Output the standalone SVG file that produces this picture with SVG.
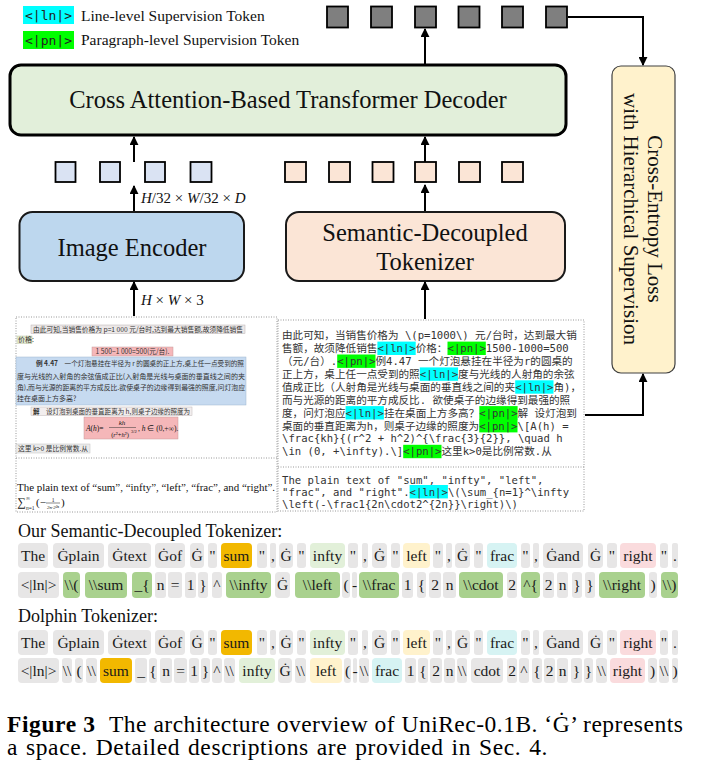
<svg xmlns="http://www.w3.org/2000/svg" width="721" height="770" viewBox="0 0 721 770">
<defs>
<marker id="ah" viewBox="0 0 10 10" refX="9" refY="5" markerWidth="9" markerHeight="9" markerUnits="userSpaceOnUse" orient="auto"><path d="M0,0 L10,5 L0,10 z" fill="#000"/></marker>
<style>
.serif{font-family:"Liberation Serif","Times New Roman",serif;fill:#111}
.mono{font-family:"DejaVu Sans Mono","Noto Sans CJK SC",monospace;font-size:10.6px;fill:#333;white-space:pre}
.cjk{font-family:"Noto Sans CJK SC","Liberation Serif",sans-serif;font-size:7px;fill:#333}
.con{fill:none;stroke:#000;stroke-width:2}
.ln{fill:#00ffff}
.pn{fill:#00ff00}
.outsq{fill:#7f7f7f;stroke:#000;stroke-width:1.8}
.bsq{fill:#dae3f3;stroke:#000;stroke-width:1.8}
.osq{fill:#fbe5d6;stroke:#000;stroke-width:1.8}
.tk text{font-family:"Liberation Serif","Times New Roman",serif;font-size:15.5px;fill:#1a1a1a;text-anchor:middle}
.t{fill:#e7e6e6}.o{fill:#f2b800}.g{fill:#a9d18e}.lg{fill:#e2f0d9}.y{fill:#fff2cc}.c{fill:#d6f3f3}.p{fill:#fadbdd}
.dot{fill:none;stroke:#999;stroke-width:1;stroke-dasharray:1 1.5}
.cap{font-family:"Liberation Serif","Times New Roman",serif;font-size:23.5px;fill:#000}
</style>
</defs>
<rect width="721" height="770" fill="#fff"/>

<!-- legend -->
<g id="legend">
<rect x="23" y="6" width="51" height="18" class="ln"/>
<text x="48.5" y="20" text-anchor="middle" style="font-family:'DejaVu Sans Mono',monospace;font-size:13px;fill:#222">&lt;|ln|&gt;</text>
<text x="81" y="21" class="serif" font-size="15.5">Line-level Supervision Token</text>
<rect x="23" y="31" width="51" height="18" class="pn"/>
<text x="48.5" y="44.5" text-anchor="middle" style="font-family:'DejaVu Sans Mono',monospace;font-size:13px;fill:#222">&lt;|pn|&gt;</text>
<text x="81" y="45" class="serif" font-size="15.5">Paragraph-level Supervision Token</text>
</g>

<!-- output tokens -->
<g id="output-tokens">
<rect x="327" y="6.5" width="21" height="21" class="outsq"/>
<rect x="371" y="6.5" width="21" height="21" class="outsq"/>
<rect x="415" y="6.5" width="21" height="21" class="outsq"/>
<rect x="458.5" y="6.5" width="21" height="21" class="outsq"/>
<rect x="502" y="6.5" width="21" height="21" class="outsq"/>
<rect x="546" y="6.5" width="21" height="21" class="outsq"/>
</g>

<!-- decoder -->
<g id="decoder">
<rect x="10" y="65" width="556" height="70" rx="11" fill="#e2efda" stroke="#000" stroke-width="3"/>
<text x="288" y="108" text-anchor="middle" class="serif" font-size="24.5">Cross Attention-Based Transformer Decoder</text>
</g>

<!-- loss -->
<g id="loss">
<rect x="612" y="66" width="63" height="307" rx="9" fill="#fff2cc" stroke="#404040" stroke-width="1.2"/>
<text transform="translate(648,219) rotate(90)" text-anchor="middle" class="serif" font-size="21">Cross-Entropy Loss</text>
<text transform="translate(624,219) rotate(90)" text-anchor="middle" class="serif" font-size="21">with Hierarchical Supervision</text>
</g>

<!-- image feature tokens -->
<g id="image-tokens">
<rect x="55.5" y="162" width="20" height="20" class="bsq"/>
<rect x="100" y="162" width="20" height="20" class="bsq"/>
<rect x="145" y="162" width="20" height="20" class="bsq"/>
<rect x="190.5" y="162" width="21" height="20" class="bsq"/>
</g>

<!-- text tokens -->
<g id="text-tokens">
<rect x="285" y="162" width="21" height="20" class="osq"/>
<rect x="329" y="162" width="21" height="20" class="osq"/>
<rect x="372.5" y="162" width="21" height="20" class="osq"/>
<rect x="415" y="162" width="21" height="20" class="osq"/>
<rect x="459" y="162" width="21" height="20" class="osq"/>
<rect x="502" y="162" width="21" height="20" class="osq"/>
</g>

<!-- image encoder -->
<g id="image-encoder">
<rect x="19.5" y="212" width="224.5" height="69" rx="13" fill="#bdd7ee" stroke="#1a1a1a" stroke-width="2"/>
<text x="132" y="256" text-anchor="middle" class="serif" font-size="24.5">Image Encoder</text>
</g>

<!-- tokenizer -->
<g id="tokenizer">
<rect x="286" y="212" width="279" height="69" rx="13" fill="#fbe5d6" stroke="#1a1a1a" stroke-width="2"/>
<text x="425" y="241" text-anchor="middle" class="serif" font-size="24.5">Semantic-Decoupled</text>
<text x="425" y="270" text-anchor="middle" class="serif" font-size="24.5">Tokenizer</text>
</g>

<!-- connector labels -->
<g id="labels">
<text x="141" y="203" class="serif" font-size="15"><tspan font-style="italic">H</tspan>/32 × <tspan font-style="italic">W</tspan>/32 × <tspan font-style="italic">D</tspan></text>
<text x="141" y="305" class="serif" font-size="15"><tspan font-style="italic">H</tspan> × <tspan font-style="italic">W</tspan> × 3</text>
</g>

<!-- connectors -->
<g id="connectors">
<line x1="425" y1="64" x2="425" y2="29" class="con" marker-end="url(#ah)"/>
<polyline points="568,17 643,17 643,65" class="con" marker-end="url(#ah)"/>
<polyline points="585,415 643,415 643,374" class="con" marker-end="url(#ah)"/>
<line x1="134" y1="162" x2="134" y2="137" class="con" marker-end="url(#ah)"/>
<line x1="425" y1="162" x2="425" y2="137" class="con" marker-end="url(#ah)"/>
<line x1="134" y1="211" x2="134" y2="186" class="con" marker-end="url(#ah)"/>
<line x1="425" y1="211" x2="425" y2="185" class="con" marker-end="url(#ah)"/>
<line x1="134" y1="316" x2="134" y2="282" class="con" marker-end="url(#ah)"/>
<line x1="425" y1="319" x2="425" y2="282" class="con" marker-end="url(#ah)"/>
</g>

<!-- document image -->
<g id="document-image">
<rect x="16" y="317" width="261" height="195" class="dot" fill="#fff"/>
<rect x="31" y="325" width="214" height="8.5" fill="#ece8e8" stroke="#b8b0b0" stroke-width="0.5"/>
<text x="33" y="332" class="cjk" textLength="210" lengthAdjust="spacingAndGlyphs">由此可知,当销售价格为 p=1 000 元/台时,达到最大销售额,故须降低销售</text>
<rect x="17" y="336" width="15" height="7.5" fill="#e3ead0" stroke="#c0c8a8" stroke-width="0.5"/>
<text x="18" y="342" class="cjk" font-size="6.5">价格:</text>
<rect x="92" y="347" width="81" height="9" fill="#f5b7b9" stroke="#c89a9a" stroke-width="0.5"/>
<text x="132.5" y="354" class="cjk" text-anchor="middle" textLength="74" lengthAdjust="spacingAndGlyphs">1 500−1 000=500(元/台).</text>
<rect x="16" y="357" width="230" height="48" fill="#c6daf0" stroke="#9fb6d0" stroke-width="0.5"/>
<text x="36" y="366" class="cjk" textLength="208" lengthAdjust="spacingAndGlyphs"><tspan font-weight="bold">例 4.47</tspan>　一个灯泡悬挂在半径为 r 的圆桌的正上方,桌上任一点受到的照</text>
<text x="17" y="378.5" class="cjk" textLength="228" lengthAdjust="spacingAndGlyphs">度与光线的入射角的余弦值成正比(入射角是光线与桌面的垂直线之间的夹</text>
<text x="17" y="390" class="cjk" textLength="228" lengthAdjust="spacingAndGlyphs">角),而与光源的距离的平方成反比.欲使桌子的边缘得到最强的照度,问灯泡应</text>
<text x="17" y="401" class="cjk">挂在桌面上方多高?</text>
<rect x="31" y="407" width="161" height="8.5" fill="#f2eeee" stroke="#c0b8b8" stroke-width="0.5"/>
<text x="33" y="414" class="cjk" textLength="157" lengthAdjust="spacingAndGlyphs"><tspan font-weight="bold">解</tspan>　设灯泡到桌面的垂直距离为 h,则桌子边缘的照度为</text>
<rect x="84" y="417" width="94" height="22" fill="#f5b7b9" stroke="#c89a9a" stroke-width="0.5"/>
<text x="86" y="431" class="serif" font-size="7.5" fill="#333"><tspan font-style="italic">A</tspan>(<tspan font-style="italic">h</tspan>)=</text>
<text x="122" y="425" class="serif" font-size="7" text-anchor="middle" font-style="italic">kh</text>
<line x1="109" y1="427.5" x2="136" y2="427.5" stroke="#333" stroke-width="0.5"/>
<text x="120" y="436.5" class="serif" font-size="6.5" text-anchor="middle">(<tspan font-style="italic">r</tspan>²+<tspan font-style="italic">h</tspan>²)</text>
<text x="131" y="433" class="serif" font-size="4.5">3/2</text>
<text x="138" y="431" class="serif" font-size="7.5">,   <tspan font-style="italic">h</tspan> ∈ (0,+∞).</text>
<rect x="16" y="444" width="74" height="9" fill="#ebebeb" stroke="#c0c0c0" stroke-width="0.5"/>
<text x="18" y="451" class="cjk" textLength="70" lengthAdjust="spacingAndGlyphs">这里 k&gt;0 是比例常数.从</text>
<line x1="16" y1="458" x2="277" y2="458" class="dot"/>
<text x="17" y="491" class="serif" font-size="10.2" textLength="258" lengthAdjust="spacingAndGlyphs">The plain text of “sum”, “infty”, “left”, “frac”, and “right”.</text>
<text x="17" y="506" class="serif" font-size="12">∑</text>
<text x="26" y="499.5" class="serif" font-size="5.5">∞</text>
<text x="26" y="509.5" class="serif" font-size="5.5"><tspan font-style="italic">n</tspan>=1</text>
<text x="36" y="506" class="serif" font-size="11">(−</text>
<text x="53" y="501.5" class="serif" font-size="5.5" text-anchor="middle">1</text>
<line x1="46" y1="503" x2="60" y2="503" stroke="#111" stroke-width="0.5"/>
<text x="53" y="509" class="serif" font-size="5" text-anchor="middle" font-style="italic">2n·2²ⁿ</text>
<text x="61" y="506" class="serif" font-size="11">)</text>
</g>

<!-- tokenized text -->
<g id="tokenized-text">
<rect x="278" y="320" width="306" height="191" class="dot" fill="#fff"/>
<rect x="377.4" y="341.6" width="38.3" height="13.4" class="ln"/>
<rect x="447.5" y="341.6" width="38.3" height="13.4" class="pn"/>
<rect x="337.2" y="354.5" width="38.3" height="13.4" class="pn"/>
<rect x="419.8" y="367.4" width="38.3" height="13.4" class="ln"/>
<rect x="515.2" y="380.3" width="38.3" height="13.4" class="ln"/>
<rect x="345.6" y="406.1" width="38.3" height="13.4" class="ln"/>
<rect x="479.3" y="406.1" width="38.3" height="13.4" class="pn"/>
<rect x="479.2" y="419" width="38.3" height="13.4" class="pn"/>
<rect x="403.2" y="444.8" width="38.3" height="13.4" class="pn"/>
<rect x="409.6" y="485" width="38.3" height="13.4" class="ln"/>
<text class="mono" y="339.2"><tspan x="282">由此可知，当销售价格为 \(p=1000\) 元/台时，达到最大销</tspan></text>
<text class="mono" y="352.1"><tspan x="282">售额，故须降低销售</tspan><tspan x="377.4">&lt;|ln|&gt;</tspan><tspan x="415.7">价格：</tspan><tspan x="447.5">&lt;|pn|&gt;</tspan><tspan x="485.8">1500-1000=500</tspan></text>
<text class="mono" y="365"><tspan x="282">（元/台）.</tspan><tspan x="337.2">&lt;|pn|&gt;</tspan><tspan x="375.5">例4.47 一个灯泡悬挂在半径为r的圆桌的</tspan></text>
<text class="mono" y="377.9"><tspan x="282">正上方，桌上任一点受到的照</tspan><tspan x="419.8">&lt;|ln|&gt;</tspan><tspan x="458.1">度与光线的人射角的余弦</tspan></text>
<text class="mono" y="390.8"><tspan x="282">值成正比（人射角是光线与桌面的垂直线之间的夹</tspan><tspan x="515.2">&lt;|ln|&gt;</tspan><tspan x="553.5">角)，</tspan></text>
<text class="mono" y="403.7"><tspan x="282">而与光源的距离的平方成反比. 欲使桌子的边缘得到最强的照</tspan></text>
<text class="mono" y="416.6"><tspan x="282">度，问灯泡应</tspan><tspan x="345.6">&lt;|ln|&gt;</tspan><tspan x="383.9">挂在桌面上方多高？</tspan><tspan x="479.3">&lt;|pn|&gt;</tspan><tspan x="517.6">解 设灯泡到</tspan></text>
<text class="mono" y="429.5"><tspan x="282">桌面的垂直距离为h，则桌子边缘的照度为</tspan><tspan x="479.2">&lt;|pn|&gt;</tspan><tspan x="517.5">\[A(h) =</tspan></text>
<text class="mono" y="442.4"><tspan x="282">\frac{kh}{(r^2 + h^2)^{\frac{3}{2}}, \quad h</tspan></text>
<text class="mono" y="455.3"><tspan x="282">\in (0, +\infty).\]</tspan><tspan x="403.2">&lt;|pn|&gt;</tspan><tspan x="441.5">这里k&gt;0是比例常数.从</tspan></text>
<line x1="278" y1="467" x2="584" y2="467" class="dot"/>
<text class="mono" y="483.5"><tspan x="282">The plain text of "sum", "infty", "left",</tspan></text>
<text class="mono" y="495.5"><tspan x="282">"frac", and "right".</tspan><tspan x="409.6">&lt;|ln|&gt;</tspan><tspan x="447.9">\(\sum_{n=1}^\infty</tspan></text>
<text class="mono" y="507.8"><tspan x="282">\left(-\frac1{2n\cdot2^{2n}}\right)\)</tspan></text>
</g>

<!-- tokenizer comparison -->
<g id="ours-title"><text x="18" y="537" class="serif" font-size="18">Our Semantic-Decoupled Tokenizer:</text></g>
<g id="ours-row1" class="tk">
<rect x="18" y="543" width="30" height="25" rx="4" class="t"/><text x="33" y="561">The</text>
<rect x="53" y="543" width="51" height="25" rx="4" class="t"/><text x="78.5" y="561">Ġplain</text>
<rect x="108" y="543" width="43" height="25" rx="4" class="t"/><text x="129.5" y="561">Ġtext</text>
<rect x="155" y="543" width="30" height="25" rx="4" class="t"/><text x="170" y="561">Ġof</text>
<rect x="190" y="543" width="14" height="25" rx="4" class="t"/><text x="197" y="561">Ġ</text>
<rect x="208" y="543" width="9" height="25" rx="3" class="t"/><text x="212.5" y="561">"</text>
<rect x="221" y="543" width="31" height="25" rx="4" class="o"/><text x="236.5" y="561">sum</text>
<rect x="257" y="543" width="10" height="25" rx="3" class="t"/><text x="262" y="561">"</text>
<rect x="270" y="543" width="6" height="25" rx="2" class="t"/><text x="273" y="561">,</text>
<rect x="279" y="543" width="14" height="25" rx="4" class="t"/><text x="286" y="561">Ġ</text>
<rect x="297" y="543" width="9" height="25" rx="3" class="t"/><text x="301.5" y="561">"</text>
<rect x="310" y="543" width="35" height="25" rx="4" class="lg"/><text x="327.5" y="561">infty</text>
<rect x="348" y="543" width="10" height="25" rx="3" class="t"/><text x="353" y="561">"</text>
<rect x="362" y="543" width="6" height="25" rx="2" class="t"/><text x="365" y="561">,</text>
<rect x="372" y="543" width="15" height="25" rx="4" class="t"/><text x="379.5" y="561">Ġ</text>
<rect x="391" y="543" width="9" height="25" rx="3" class="t"/><text x="395.5" y="561">"</text>
<rect x="403" y="543" width="27" height="25" rx="4" class="y"/><text x="416.5" y="561">left</text>
<rect x="433" y="543" width="10" height="25" rx="3" class="t"/><text x="438" y="561">"</text>
<rect x="446" y="543" width="6" height="25" rx="2" class="t"/><text x="449" y="561">,</text>
<rect x="455" y="543" width="15" height="25" rx="4" class="t"/><text x="462.5" y="561">Ġ</text>
<rect x="474" y="543" width="9" height="25" rx="3" class="t"/><text x="478.5" y="561">"</text>
<rect x="487" y="543" width="30" height="25" rx="4" class="c"/><text x="502" y="561">frac</text>
<rect x="521" y="543" width="9" height="25" rx="3" class="t"/><text x="525.5" y="561">"</text>
<rect x="533" y="543" width="6" height="25" rx="2" class="t"/><text x="536" y="561">,</text>
<rect x="543" y="543" width="40" height="25" rx="4" class="t"/><text x="563" y="561">Ġand</text>
<rect x="588" y="543" width="15" height="25" rx="4" class="t"/><text x="595.5" y="561">Ġ</text>
<rect x="607" y="543" width="10" height="25" rx="3" class="t"/><text x="612" y="561">"</text>
<rect x="620" y="543" width="36" height="25" rx="4" class="p"/><text x="638" y="561">right</text>
<rect x="660" y="543" width="8" height="25" rx="3" class="t"/><text x="664" y="561">"</text>
<rect x="672" y="543" width="6" height="25" rx="2" class="t"/><text x="675" y="561">.</text>
</g>
<g id="ours-row2" class="tk">
<rect x="18" y="572" width="41" height="26" rx="4" class="t"/><text x="38.5" y="590">&lt;|ln|&gt;</text>
<rect x="63" y="572" width="17" height="26" rx="4" class="g"/><text x="71.5" y="590">\\(</text>
<rect x="85" y="572" width="42" height="26" rx="4" class="g"/><text x="106" y="590">\\sum</text>
<rect x="132" y="572" width="20" height="26" rx="4" class="g"/><text x="142" y="590">_{</text>
<rect x="155" y="572" width="11" height="26" rx="3" class="t"/><text x="160.5" y="590">n</text>
<rect x="168" y="572" width="14" height="26" rx="3" class="t"/><text x="175" y="590">=</text>
<rect x="185" y="572" width="11" height="26" rx="3" class="t"/><text x="190.5" y="590">1</text>
<rect x="198" y="572" width="10" height="26" rx="3" class="t"/><text x="203" y="590">}</text>
<rect x="212" y="572" width="10" height="26" rx="3" class="t"/><text x="217" y="590">^</text>
<rect x="226" y="572" width="45" height="26" rx="4" class="g"/><text x="248.5" y="590">\\infty</text>
<rect x="275" y="572" width="15" height="26" rx="4" class="t"/><text x="282.5" y="590">Ġ</text>
<rect x="295" y="572" width="45" height="26" rx="4" class="g"/><text x="317.5" y="590">\\left</text>
<rect x="342" y="572" width="8" height="26" rx="3" class="t"/><text x="346" y="590">(</text>
<rect x="352" y="572" width="5" height="26" rx="2" class="t"/><text x="354.5" y="590">-</text>
<rect x="359" y="572" width="40" height="26" rx="4" class="g"/><text x="379" y="590">\\frac</text>
<rect x="402" y="572" width="11" height="26" rx="3" class="t"/><text x="407.5" y="590">1</text>
<rect x="417" y="572" width="9" height="26" rx="3" class="t"/><text x="421.5" y="590">{</text>
<rect x="429" y="572" width="12" height="26" rx="3" class="t"/><text x="435" y="590">2</text>
<rect x="443" y="572" width="13" height="26" rx="3" class="t"/><text x="449.5" y="590">n</text>
<rect x="459" y="572" width="44" height="26" rx="4" class="g"/><text x="481" y="590">\\cdot</text>
<rect x="507" y="572" width="10" height="26" rx="3" class="t"/><text x="512" y="590">2</text>
<rect x="521" y="572" width="19" height="26" rx="4" class="g"/><text x="530.5" y="590">^{</text>
<rect x="543" y="572" width="11" height="26" rx="3" class="t"/><text x="548.5" y="590">2</text>
<rect x="557" y="572" width="11" height="26" rx="3" class="t"/><text x="562.5" y="590">n</text>
<rect x="572" y="572" width="10" height="26" rx="3" class="t"/><text x="577" y="590">}</text>
<rect x="585" y="572" width="10" height="26" rx="3" class="t"/><text x="590" y="590">}</text>
<rect x="599" y="572" width="46" height="26" rx="4" class="g"/><text x="622" y="590">\\right</text>
<rect x="649" y="572" width="8" height="26" rx="3" class="t"/><text x="653" y="590">)</text>
<rect x="661" y="572" width="17" height="26" rx="4" class="g"/><text x="669.5" y="590">\\)</text>
</g>

<g id="dolphin-title"><text x="18" y="622" class="serif" font-size="18">Dolphin Tokenizer:</text></g>
<g id="dolphin-row1" class="tk">
<rect x="18" y="630" width="30" height="25" rx="4" class="t"/><text x="33" y="648">The</text>
<rect x="53" y="630" width="51" height="25" rx="4" class="t"/><text x="78.5" y="648">Ġplain</text>
<rect x="108" y="630" width="43" height="25" rx="4" class="t"/><text x="129.5" y="648">Ġtext</text>
<rect x="155" y="630" width="30" height="25" rx="4" class="t"/><text x="170" y="648">Ġof</text>
<rect x="190" y="630" width="14" height="25" rx="4" class="t"/><text x="197" y="648">Ġ</text>
<rect x="208" y="630" width="9" height="25" rx="3" class="t"/><text x="212.5" y="648">"</text>
<rect x="221" y="630" width="31" height="25" rx="4" class="o"/><text x="236.5" y="648">sum</text>
<rect x="257" y="630" width="10" height="25" rx="3" class="t"/><text x="262" y="648">"</text>
<rect x="270" y="630" width="6" height="25" rx="2" class="t"/><text x="273" y="648">,</text>
<rect x="279" y="630" width="14" height="25" rx="4" class="t"/><text x="286" y="648">Ġ</text>
<rect x="297" y="630" width="9" height="25" rx="3" class="t"/><text x="301.5" y="648">"</text>
<rect x="310" y="630" width="35" height="25" rx="4" class="lg"/><text x="327.5" y="648">infty</text>
<rect x="348" y="630" width="10" height="25" rx="3" class="t"/><text x="353" y="648">"</text>
<rect x="362" y="630" width="6" height="25" rx="2" class="t"/><text x="365" y="648">,</text>
<rect x="372" y="630" width="15" height="25" rx="4" class="t"/><text x="379.5" y="648">Ġ</text>
<rect x="391" y="630" width="9" height="25" rx="3" class="t"/><text x="395.5" y="648">"</text>
<rect x="403" y="630" width="27" height="25" rx="4" class="y"/><text x="416.5" y="648">left</text>
<rect x="433" y="630" width="10" height="25" rx="3" class="t"/><text x="438" y="648">"</text>
<rect x="446" y="630" width="6" height="25" rx="2" class="t"/><text x="449" y="648">,</text>
<rect x="455" y="630" width="15" height="25" rx="4" class="t"/><text x="462.5" y="648">Ġ</text>
<rect x="474" y="630" width="9" height="25" rx="3" class="t"/><text x="478.5" y="648">"</text>
<rect x="487" y="630" width="30" height="25" rx="4" class="c"/><text x="502" y="648">frac</text>
<rect x="521" y="630" width="9" height="25" rx="3" class="t"/><text x="525.5" y="648">"</text>
<rect x="533" y="630" width="6" height="25" rx="2" class="t"/><text x="536" y="648">,</text>
<rect x="543" y="630" width="40" height="25" rx="4" class="t"/><text x="563" y="648">Ġand</text>
<rect x="588" y="630" width="15" height="25" rx="4" class="t"/><text x="595.5" y="648">Ġ</text>
<rect x="607" y="630" width="10" height="25" rx="3" class="t"/><text x="612" y="648">"</text>
<rect x="620" y="630" width="36" height="25" rx="4" class="p"/><text x="638" y="648">right</text>
<rect x="660" y="630" width="8" height="25" rx="3" class="t"/><text x="664" y="648">"</text>
<rect x="672" y="630" width="6" height="25" rx="2" class="t"/><text x="675" y="648">.</text>
</g>
<g id="dolphin-row2" class="tk">
<rect x="18" y="658" width="41" height="25" rx="4" class="t"/><text x="38.5" y="676">&lt;|ln|&gt;</text>
<rect x="62" y="658" width="10" height="25" rx="3" class="t"/><text x="67" y="676">\\</text>
<rect x="75" y="658" width="8" height="25" rx="3" class="t"/><text x="79" y="676">(</text>
<rect x="86" y="658" width="11" height="25" rx="3" class="t"/><text x="91.5" y="676">\\</text>
<rect x="100" y="658" width="32" height="25" rx="4" class="o"/><text x="116" y="676">sum</text>
<rect x="135" y="658" width="12" height="25" rx="3" class="t"/><text x="141" y="676">_</text>
<rect x="149" y="658" width="8" height="25" rx="3" class="t"/><text x="153" y="676">{</text>
<rect x="160" y="658" width="12" height="25" rx="3" class="t"/><text x="166" y="676">n</text>
<rect x="174" y="658" width="13" height="25" rx="3" class="t"/><text x="180.5" y="676">=</text>
<rect x="189" y="658" width="10" height="25" rx="3" class="t"/><text x="194" y="676">1</text>
<rect x="201" y="658" width="9" height="25" rx="3" class="t"/><text x="205.5" y="676">}</text>
<rect x="212" y="658" width="10" height="25" rx="3" class="t"/><text x="217" y="676">^</text>
<rect x="224" y="658" width="11" height="25" rx="3" class="t"/><text x="229.5" y="676">\\</text>
<rect x="239" y="658" width="36" height="25" rx="4" class="lg"/><text x="257" y="676">infty</text>
<rect x="278" y="658" width="14" height="25" rx="4" class="t"/><text x="285" y="676">Ġ</text>
<rect x="295" y="658" width="11" height="25" rx="3" class="t"/><text x="300.5" y="676">\\</text>
<rect x="310" y="658" width="32" height="25" rx="4" class="y"/><text x="326" y="676">left</text>
<rect x="344" y="658" width="7" height="25" rx="3" class="t"/><text x="347.5" y="676">(</text>
<rect x="353" y="658" width="4" height="25" rx="2" class="t"/><text x="355" y="676">-</text>
<rect x="359" y="658" width="10" height="25" rx="3" class="t"/><text x="364" y="676">\\</text>
<rect x="372" y="658" width="30" height="25" rx="4" class="c"/><text x="387" y="676">frac</text>
<rect x="405" y="658" width="11" height="25" rx="3" class="t"/><text x="410.5" y="676">1</text>
<rect x="418" y="658" width="10" height="25" rx="3" class="t"/><text x="423" y="676">{</text>
<rect x="430" y="658" width="12" height="25" rx="3" class="t"/><text x="436" y="676">2</text>
<rect x="444" y="658" width="11" height="25" rx="3" class="t"/><text x="449.5" y="676">n</text>
<rect x="457" y="658" width="10" height="25" rx="3" class="t"/><text x="462" y="676">\\</text>
<rect x="471" y="658" width="32" height="25" rx="4" class="t"/><text x="487" y="676">cdot</text>
<rect x="507" y="658" width="10" height="25" rx="3" class="t"/><text x="512" y="676">2</text>
<rect x="519" y="658" width="10" height="25" rx="3" class="t"/><text x="524" y="676">^</text>
<rect x="532" y="658" width="10" height="25" rx="3" class="t"/><text x="537" y="676">{</text>
<rect x="544" y="658" width="11" height="25" rx="3" class="t"/><text x="549.5" y="676">2</text>
<rect x="557" y="658" width="11" height="25" rx="3" class="t"/><text x="562.5" y="676">n</text>
<rect x="571" y="658" width="11" height="25" rx="3" class="t"/><text x="576.5" y="676">}</text>
<rect x="584" y="658" width="9" height="25" rx="3" class="t"/><text x="588.5" y="676">}</text>
<rect x="596" y="658" width="11" height="25" rx="3" class="t"/><text x="601.5" y="676">\\</text>
<rect x="610" y="658" width="35" height="25" rx="4" class="p"/><text x="627.5" y="676">right</text>
<rect x="648" y="658" width="9" height="25" rx="3" class="t"/><text x="652.5" y="676">)</text>
<rect x="659" y="658" width="10" height="25" rx="3" class="t"/><text x="664" y="676">\\</text>
<rect x="672" y="658" width="6" height="25" rx="2" class="t"/><text x="675" y="676">)</text>
</g>

<!-- caption -->
<g id="caption">
<text x="7" y="732" class="cap"><tspan font-weight="bold" style="letter-spacing:0.6px">Figure 3</tspan><tspan x="109" style="letter-spacing:0.5px">The architecture overview of UniRec-0.1B. ‘Ġ’ represents</tspan></text>
<text x="7" y="755" class="cap" style="letter-spacing:0.6px;word-spacing:1.5px">a space.  Detailed descriptions are provided in Sec. 4.</text>
</g>
</svg>
